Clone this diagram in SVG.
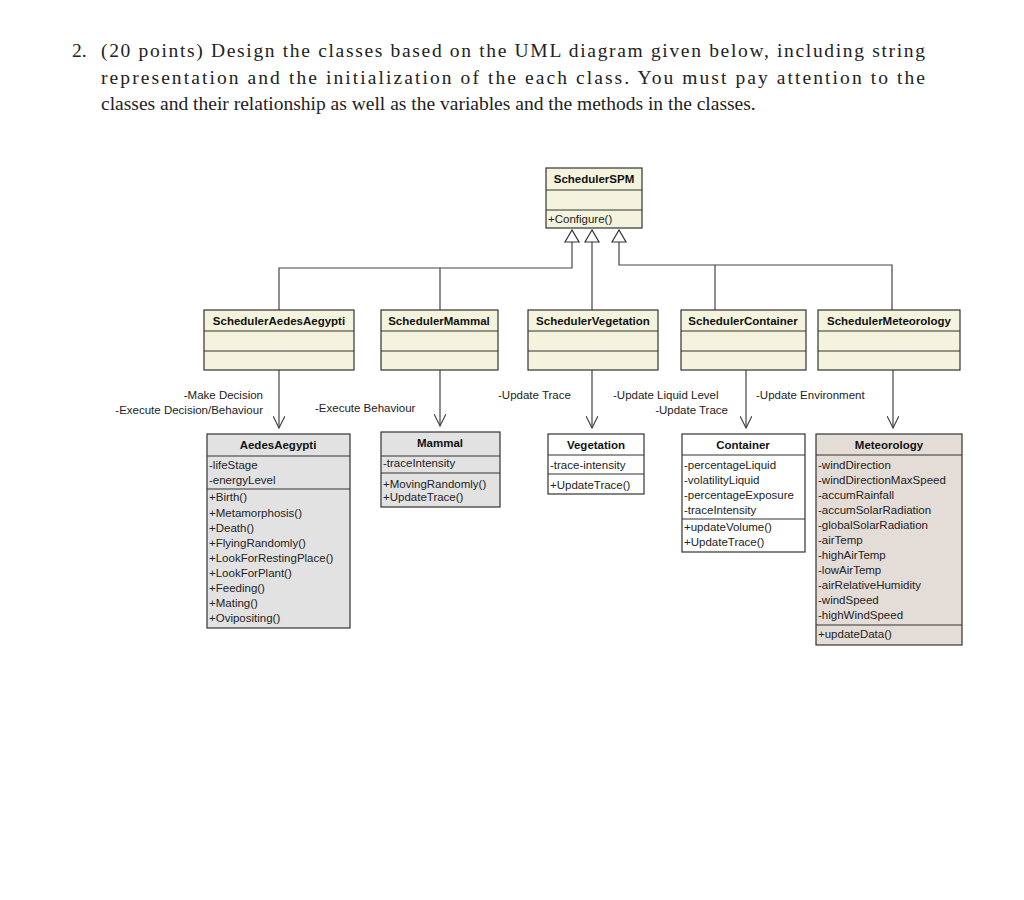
<svg xmlns="http://www.w3.org/2000/svg" width="1024" height="900" viewBox="0 0 1024 900">
<style>
.h{font-family:"Liberation Serif",serif;font-size:19.5px;fill:#222}
.t{font-family:"Liberation Sans",Arial,sans-serif;font-size:11.5px;font-weight:bold;fill:#111}
.a{font-family:"Liberation Sans",Arial,sans-serif;font-size:11.5px;fill:#222}
.l{font-family:"Liberation Sans",Arial,sans-serif;font-size:11.5px;fill:#222}
.sch{fill:#f4f3dd;stroke:#333;stroke-width:1.2}
.gr{fill:#e2e2e2;stroke:#333;stroke-width:1.2}
.wh{fill:#fff;stroke:#333;stroke-width:1.2}
.me{fill:#e4dcd6;stroke:#333;stroke-width:1.2}
.sep{stroke:#333;stroke-width:1.2}
.c{fill:none;stroke:#444;stroke-width:1.2}
.tri{fill:#fff;stroke:#333;stroke-width:1.2}
</style>
<defs>
<marker id="open" markerWidth="14" markerHeight="12" refX="12" refY="6" orient="auto" markerUnits="userSpaceOnUse">
<path d="M0,0 L12,6 L0,12" fill="none" stroke="#444" stroke-width="1.2"/>
</marker>
</defs>
<rect width="1024" height="900" fill="#fff"/>
<g id="question">
<text class="h" x="72" y="57">2.</text>
<text class="h" x="101" y="57" textLength="824" lengthAdjust="spacing">(20 points) Design the classes based on the UML diagram given below, including string</text>
<text class="h" x="101" y="84" textLength="824" lengthAdjust="spacing">representation and the initialization of the each class. You must pay attention to the</text>
<text class="h" x="101" y="110">classes and their relationship as well as the variables and the methods in the classes.</text>
</g>
<g id="connectors">
<path class="c" d="M572,242 V268 H279 V310"/>
<path class="c" d="M440,268 V310"/>
<path class="c" d="M592,242 V310"/>
<path class="c" d="M619,242 V265 H892 V310"/>
<path class="c" d="M715,265 V310"/>
<polygon class="tri" points="572,230 565,242 579,242"/>
<polygon class="tri" points="592,230 585,242 599,242"/>
<polygon class="tri" points="619,230 612,242 626,242"/>
<path class="c" d="M279,370 V428" marker-end="url(#open)"/>
<path class="c" d="M440,370 V426" marker-end="url(#open)"/>
<path class="c" d="M592,370 V428" marker-end="url(#open)"/>
<path class="c" d="M746,370 V428" marker-end="url(#open)"/>
<path class="c" d="M893,370 V428" marker-end="url(#open)"/>
<text class="l" x="263" y="399" text-anchor="end">-Make Decision</text>
<text class="l" x="263" y="414" text-anchor="end">-Execute Decision/Behaviour</text>
<text class="l" x="315" y="412">-Execute Behaviour</text>
<text class="l" x="498" y="399">-Update Trace</text>
<text class="l" x="613" y="399">-Update Liquid Level</text>
<text class="l" x="728" y="414" text-anchor="end">-Update Trace</text>
<text class="l" x="756" y="399">-Update Environment</text>
</g>
<g id="SchedulerSPM">
<rect class="sch" x="546" y="168" width="96" height="60"/>
<line class="sep" x1="546" y1="190" x2="642" y2="190"/>
<line class="sep" x1="546" y1="210" x2="642" y2="210"/>
<text class="t" x="594" y="183" text-anchor="middle">SchedulerSPM</text>
<text class="a" x="548" y="223">+Configure()</text>
</g>
<g id="SchedulerAedesAegypti">
<rect class="sch" x="204" y="310" width="150" height="60"/>
<line class="sep" x1="204" y1="331" x2="354" y2="331"/><line class="sep" x1="204" y1="351" x2="354" y2="351"/>
<text class="t" x="279" y="325" text-anchor="middle">SchedulerAedesAegypti</text>
</g>
<g id="SchedulerMammal">
<rect class="sch" x="381" y="310" width="117" height="60"/>
<line class="sep" x1="381" y1="331" x2="498" y2="331"/><line class="sep" x1="381" y1="351" x2="498" y2="351"/>
<text class="t" x="439" y="325" text-anchor="middle">SchedulerMammal</text>
</g>
<g id="SchedulerVegetation">
<rect class="sch" x="528" y="310" width="130" height="60"/>
<line class="sep" x1="528" y1="331" x2="658" y2="331"/><line class="sep" x1="528" y1="351" x2="658" y2="351"/>
<text class="t" x="593" y="325" text-anchor="middle">SchedulerVegetation</text>
</g>
<g id="SchedulerContainer">
<rect class="sch" x="681" y="310" width="125" height="60"/>
<line class="sep" x1="681" y1="331" x2="806" y2="331"/><line class="sep" x1="681" y1="351" x2="806" y2="351"/>
<text class="t" x="743" y="325" text-anchor="middle">SchedulerContainer</text>
</g>
<g id="SchedulerMeteorology">
<rect class="sch" x="818" y="310" width="142" height="60"/>
<line class="sep" x1="818" y1="331" x2="960" y2="331"/><line class="sep" x1="818" y1="351" x2="960" y2="351"/>
<text class="t" x="889" y="325" text-anchor="middle">SchedulerMeteorology</text>
</g>
<g id="AedesAegypti">
<rect class="gr" x="207" y="434" width="143" height="194"/>
<line class="sep" x1="207" y1="456" x2="350" y2="456"/><line class="sep" x1="207" y1="489" x2="350" y2="489"/>
<text class="t" x="278" y="449" text-anchor="middle">AedesAegypti</text>
<g class="a">
<text x="209" y="469">-lifeStage</text><text x="209" y="484">-energyLevel</text>
<text x="209" y="501">+Birth()</text><text x="209" y="517">+Metamorphosis()</text><text x="209" y="532">+Death()</text>
<text x="209" y="547">+FlyingRandomly()</text><text x="209" y="562">+LookForRestingPlace()</text><text x="209" y="577">+LookForPlant()</text>
<text x="209" y="592">+Feeding()</text><text x="209" y="607">+Mating()</text><text x="209" y="622">+Ovipositing()</text>
</g>
</g>
<g id="Mammal">
<rect class="gr" x="381" y="432" width="119" height="75"/>
<line class="sep" x1="381" y1="456" x2="500" y2="456"/><line class="sep" x1="381" y1="473" x2="500" y2="473"/>
<text class="t" x="440" y="447" text-anchor="middle">Mammal</text>
<text class="a" x="383" y="467">-traceIntensity</text>
<text class="a" x="383" y="488">+MovingRandomly()</text>
<text class="a" x="383" y="501">+UpdateTrace()</text>
</g>
<g id="Vegetation">
<rect class="wh" x="548" y="434" width="96" height="60"/>
<line class="sep" x1="548" y1="455" x2="644" y2="455"/><line class="sep" x1="548" y1="474" x2="644" y2="474"/>
<text class="t" x="596" y="449" text-anchor="middle">Vegetation</text>
<text class="a" x="550" y="469">-trace-intensity</text>
<text class="a" x="550" y="489">+UpdateTrace()</text>
</g>
<g id="Container">
<rect class="wh" x="682" y="434" width="123" height="118"/>
<line class="sep" x1="682" y1="455" x2="805" y2="455"/><line class="sep" x1="682" y1="519" x2="805" y2="519"/>
<text class="t" x="743" y="449" text-anchor="middle">Container</text>
<g class="a">
<text x="684" y="469">-percentageLiquid</text><text x="684" y="484">-volatilityLiquid</text>
<text x="684" y="499">-percentageExposure</text><text x="684" y="514">-traceIntensity</text>
<text x="684" y="531">+updateVolume()</text><text x="684" y="546">+UpdateTrace()</text>
</g>
</g>
<g id="Meteorology">
<rect class="me" x="816" y="434" width="146" height="211"/>
<line class="sep" x1="816" y1="455" x2="962" y2="455"/><line class="sep" x1="816" y1="625" x2="962" y2="625"/>
<text class="t" x="889" y="449" text-anchor="middle">Meteorology</text>
<g class="a">
<text x="818" y="469">-windDirection</text><text x="818" y="484">-windDirectionMaxSpeed</text>
<text x="818" y="499">-accumRainfall</text><text x="818" y="514">-accumSolarRadiation</text>
<text x="818" y="529">-globalSolarRadiation</text><text x="818" y="544">-airTemp</text>
<text x="818" y="559">-highAirTemp</text><text x="818" y="574">-lowAirTemp</text>
<text x="818" y="589">-airRelativeHumidity</text><text x="818" y="604">-windSpeed</text>
<text x="818" y="619">-highWindSpeed</text><text x="818" y="638">+updateData()</text>
</g>
</g>
</svg>
